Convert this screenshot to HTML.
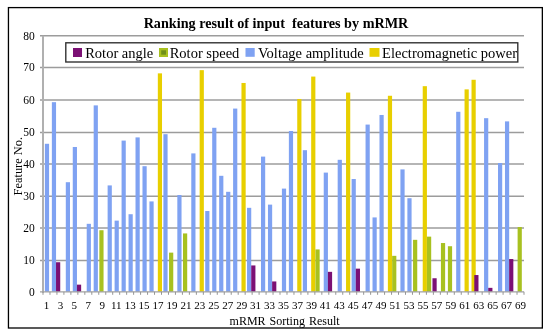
<!DOCTYPE html>
<html><head><meta charset="utf-8"><style>
html,body{margin:0;padding:0;background:#fff;}
svg{display:block;}
text{font-family:"Liberation Serif","Times New Roman",serif;fill:#000;}
.yl{font-size:11.5px;text-anchor:end;}
.xl{font-size:11px;text-anchor:middle;}
.lg{font-size:14.5px;}
</style></head><body>
<svg width="550" height="336" viewBox="0 0 550 336">
<rect x="0" y="0" width="550" height="336" fill="#fff"/>
<rect x="8.45" y="7.6" width="533.9" height="320.4" fill="#fff" stroke="#000" stroke-width="1.3"/>
<text x="276" y="27.6" style="font-size:14.2px;font-weight:bold;text-anchor:middle;white-space:pre" xml:space="preserve">Ranking result of input  features by mRMR</text>
<line x1="40" y1="260.40" x2="524.00" y2="260.40" stroke="#9c9c9c" stroke-width="1.45"/>
<line x1="40" y1="228.00" x2="524.00" y2="228.00" stroke="#9c9c9c" stroke-width="1.45"/>
<line x1="40" y1="196.30" x2="524.00" y2="196.30" stroke="#9c9c9c" stroke-width="1.45"/>
<line x1="40" y1="164.00" x2="524.00" y2="164.00" stroke="#9c9c9c" stroke-width="1.45"/>
<line x1="40" y1="132.40" x2="524.00" y2="132.40" stroke="#9c9c9c" stroke-width="1.45"/>
<line x1="40" y1="100.00" x2="524.00" y2="100.00" stroke="#9c9c9c" stroke-width="1.45"/>
<line x1="40" y1="67.40" x2="524.00" y2="67.40" stroke="#9c9c9c" stroke-width="1.45"/>
<line x1="40" y1="35.70" x2="524.00" y2="35.70" stroke="#9c9c9c" stroke-width="1.45"/>
<rect x="44.89" y="143.79" width="4.2" height="148.01" fill="#7fa2f2"/>
<rect x="51.86" y="102.18" width="4.2" height="189.62" fill="#7fa2f2"/>
<rect x="56.03" y="262.24" width="4.2" height="29.56" fill="#7b1074"/>
<rect x="65.80" y="182.21" width="4.2" height="109.59" fill="#7fa2f2"/>
<rect x="72.77" y="146.99" width="4.2" height="144.81" fill="#7fa2f2"/>
<rect x="76.94" y="284.65" width="4.2" height="7.15" fill="#7b1074"/>
<rect x="86.71" y="223.82" width="4.2" height="67.98" fill="#7fa2f2"/>
<rect x="93.68" y="105.38" width="4.2" height="186.42" fill="#7fa2f2"/>
<rect x="99.35" y="230.23" width="4.2" height="61.57" fill="#a8c120"/>
<rect x="107.62" y="185.41" width="4.2" height="106.39" fill="#7fa2f2"/>
<rect x="114.60" y="220.62" width="4.2" height="71.18" fill="#7fa2f2"/>
<rect x="121.57" y="140.59" width="4.2" height="151.21" fill="#7fa2f2"/>
<rect x="128.54" y="214.22" width="4.2" height="77.58" fill="#7fa2f2"/>
<rect x="135.51" y="137.39" width="4.2" height="154.41" fill="#7fa2f2"/>
<rect x="142.48" y="166.20" width="4.2" height="125.60" fill="#7fa2f2"/>
<rect x="149.45" y="201.42" width="4.2" height="90.38" fill="#7fa2f2"/>
<rect x="157.82" y="73.36" width="4.2" height="218.44" fill="#e8cf00"/>
<rect x="163.39" y="134.19" width="4.2" height="157.61" fill="#7fa2f2"/>
<rect x="169.06" y="252.63" width="4.2" height="39.17" fill="#a8c120"/>
<rect x="177.33" y="195.01" width="4.2" height="96.79" fill="#7fa2f2"/>
<rect x="183.01" y="233.43" width="4.2" height="58.37" fill="#a8c120"/>
<rect x="191.28" y="153.40" width="4.2" height="138.40" fill="#7fa2f2"/>
<rect x="199.65" y="70.16" width="4.2" height="221.64" fill="#e8cf00"/>
<rect x="205.22" y="211.02" width="4.2" height="80.78" fill="#7fa2f2"/>
<rect x="212.19" y="127.79" width="4.2" height="164.01" fill="#7fa2f2"/>
<rect x="219.16" y="175.81" width="4.2" height="116.00" fill="#7fa2f2"/>
<rect x="226.13" y="191.81" width="4.2" height="99.99" fill="#7fa2f2"/>
<rect x="233.10" y="108.58" width="4.2" height="183.22" fill="#7fa2f2"/>
<rect x="241.47" y="82.97" width="4.2" height="208.83" fill="#e8cf00"/>
<rect x="247.04" y="207.82" width="4.2" height="83.98" fill="#7fa2f2"/>
<rect x="251.22" y="265.44" width="4.2" height="26.36" fill="#7b1074"/>
<rect x="260.99" y="156.60" width="4.2" height="135.20" fill="#7fa2f2"/>
<rect x="267.96" y="204.62" width="4.2" height="87.18" fill="#7fa2f2"/>
<rect x="272.13" y="281.45" width="4.2" height="10.35" fill="#7b1074"/>
<rect x="281.90" y="188.61" width="4.2" height="103.19" fill="#7fa2f2"/>
<rect x="288.87" y="130.99" width="4.2" height="160.81" fill="#7fa2f2"/>
<rect x="297.24" y="98.97" width="4.2" height="192.83" fill="#e8cf00"/>
<rect x="302.81" y="150.19" width="4.2" height="141.61" fill="#7fa2f2"/>
<rect x="311.18" y="76.57" width="4.2" height="215.23" fill="#e8cf00"/>
<rect x="315.46" y="249.43" width="4.2" height="42.37" fill="#a8c120"/>
<rect x="323.73" y="172.60" width="4.2" height="119.20" fill="#7fa2f2"/>
<rect x="327.90" y="271.84" width="4.2" height="19.96" fill="#7b1074"/>
<rect x="337.67" y="159.80" width="4.2" height="132.00" fill="#7fa2f2"/>
<rect x="346.04" y="92.57" width="4.2" height="199.23" fill="#e8cf00"/>
<rect x="351.61" y="179.01" width="4.2" height="112.79" fill="#7fa2f2"/>
<rect x="355.78" y="268.64" width="4.2" height="23.16" fill="#7b1074"/>
<rect x="365.55" y="124.58" width="4.2" height="167.22" fill="#7fa2f2"/>
<rect x="372.52" y="217.42" width="4.2" height="74.38" fill="#7fa2f2"/>
<rect x="379.49" y="114.98" width="4.2" height="176.82" fill="#7fa2f2"/>
<rect x="387.87" y="95.77" width="4.2" height="196.03" fill="#e8cf00"/>
<rect x="392.14" y="255.84" width="4.2" height="35.96" fill="#a8c120"/>
<rect x="400.41" y="169.40" width="4.2" height="122.40" fill="#7fa2f2"/>
<rect x="407.38" y="198.21" width="4.2" height="93.59" fill="#7fa2f2"/>
<rect x="413.05" y="239.83" width="4.2" height="51.97" fill="#a8c120"/>
<rect x="422.72" y="86.17" width="4.2" height="205.63" fill="#e8cf00"/>
<rect x="426.99" y="236.63" width="4.2" height="55.17" fill="#a8c120"/>
<rect x="432.46" y="278.25" width="4.2" height="13.56" fill="#7b1074"/>
<rect x="440.93" y="243.03" width="4.2" height="48.77" fill="#a8c120"/>
<rect x="447.90" y="246.23" width="4.2" height="45.57" fill="#a8c120"/>
<rect x="456.18" y="111.78" width="4.2" height="180.02" fill="#7fa2f2"/>
<rect x="464.55" y="89.37" width="4.2" height="202.43" fill="#e8cf00"/>
<rect x="471.52" y="79.77" width="4.2" height="212.03" fill="#e8cf00"/>
<rect x="474.29" y="275.04" width="4.2" height="16.76" fill="#7b1074"/>
<rect x="484.06" y="118.18" width="4.2" height="173.62" fill="#7fa2f2"/>
<rect x="488.23" y="287.85" width="4.2" height="3.95" fill="#7b1074"/>
<rect x="498.00" y="163.00" width="4.2" height="128.80" fill="#7fa2f2"/>
<rect x="504.97" y="121.38" width="4.2" height="170.42" fill="#7fa2f2"/>
<rect x="509.14" y="259.04" width="4.2" height="32.76" fill="#7b1074"/>
<rect x="517.61" y="227.03" width="4.2" height="64.78" fill="#a8c120"/>
<line x1="43" y1="35.70" x2="43" y2="292.70" stroke="#b0b0b0" stroke-width="2"/>
<line x1="40" y1="291.80" x2="524.00" y2="291.80" stroke="#a2a2a2" stroke-width="1.3"/>
<line x1="43.00" y1="291.80" x2="43.00" y2="294.8" stroke="#959595" stroke-width="1"/>
<line x1="49.97" y1="291.80" x2="49.97" y2="294.8" stroke="#959595" stroke-width="1"/>
<line x1="56.94" y1="291.80" x2="56.94" y2="294.8" stroke="#959595" stroke-width="1"/>
<line x1="63.91" y1="291.80" x2="63.91" y2="294.8" stroke="#959595" stroke-width="1"/>
<line x1="70.88" y1="291.80" x2="70.88" y2="294.8" stroke="#959595" stroke-width="1"/>
<line x1="77.86" y1="291.80" x2="77.86" y2="294.8" stroke="#959595" stroke-width="1"/>
<line x1="84.83" y1="291.80" x2="84.83" y2="294.8" stroke="#959595" stroke-width="1"/>
<line x1="91.80" y1="291.80" x2="91.80" y2="294.8" stroke="#959595" stroke-width="1"/>
<line x1="98.77" y1="291.80" x2="98.77" y2="294.8" stroke="#959595" stroke-width="1"/>
<line x1="105.74" y1="291.80" x2="105.74" y2="294.8" stroke="#959595" stroke-width="1"/>
<line x1="112.71" y1="291.80" x2="112.71" y2="294.8" stroke="#959595" stroke-width="1"/>
<line x1="119.68" y1="291.80" x2="119.68" y2="294.8" stroke="#959595" stroke-width="1"/>
<line x1="126.65" y1="291.80" x2="126.65" y2="294.8" stroke="#959595" stroke-width="1"/>
<line x1="133.62" y1="291.80" x2="133.62" y2="294.8" stroke="#959595" stroke-width="1"/>
<line x1="140.59" y1="291.80" x2="140.59" y2="294.8" stroke="#959595" stroke-width="1"/>
<line x1="147.57" y1="291.80" x2="147.57" y2="294.8" stroke="#959595" stroke-width="1"/>
<line x1="154.54" y1="291.80" x2="154.54" y2="294.8" stroke="#959595" stroke-width="1"/>
<line x1="161.51" y1="291.80" x2="161.51" y2="294.8" stroke="#959595" stroke-width="1"/>
<line x1="168.48" y1="291.80" x2="168.48" y2="294.8" stroke="#959595" stroke-width="1"/>
<line x1="175.45" y1="291.80" x2="175.45" y2="294.8" stroke="#959595" stroke-width="1"/>
<line x1="182.42" y1="291.80" x2="182.42" y2="294.8" stroke="#959595" stroke-width="1"/>
<line x1="189.39" y1="291.80" x2="189.39" y2="294.8" stroke="#959595" stroke-width="1"/>
<line x1="196.36" y1="291.80" x2="196.36" y2="294.8" stroke="#959595" stroke-width="1"/>
<line x1="203.33" y1="291.80" x2="203.33" y2="294.8" stroke="#959595" stroke-width="1"/>
<line x1="210.30" y1="291.80" x2="210.30" y2="294.8" stroke="#959595" stroke-width="1"/>
<line x1="217.28" y1="291.80" x2="217.28" y2="294.8" stroke="#959595" stroke-width="1"/>
<line x1="224.25" y1="291.80" x2="224.25" y2="294.8" stroke="#959595" stroke-width="1"/>
<line x1="231.22" y1="291.80" x2="231.22" y2="294.8" stroke="#959595" stroke-width="1"/>
<line x1="238.19" y1="291.80" x2="238.19" y2="294.8" stroke="#959595" stroke-width="1"/>
<line x1="245.16" y1="291.80" x2="245.16" y2="294.8" stroke="#959595" stroke-width="1"/>
<line x1="252.13" y1="291.80" x2="252.13" y2="294.8" stroke="#959595" stroke-width="1"/>
<line x1="259.10" y1="291.80" x2="259.10" y2="294.8" stroke="#959595" stroke-width="1"/>
<line x1="266.07" y1="291.80" x2="266.07" y2="294.8" stroke="#959595" stroke-width="1"/>
<line x1="273.04" y1="291.80" x2="273.04" y2="294.8" stroke="#959595" stroke-width="1"/>
<line x1="280.01" y1="291.80" x2="280.01" y2="294.8" stroke="#959595" stroke-width="1"/>
<line x1="286.99" y1="291.80" x2="286.99" y2="294.8" stroke="#959595" stroke-width="1"/>
<line x1="293.96" y1="291.80" x2="293.96" y2="294.8" stroke="#959595" stroke-width="1"/>
<line x1="300.93" y1="291.80" x2="300.93" y2="294.8" stroke="#959595" stroke-width="1"/>
<line x1="307.90" y1="291.80" x2="307.90" y2="294.8" stroke="#959595" stroke-width="1"/>
<line x1="314.87" y1="291.80" x2="314.87" y2="294.8" stroke="#959595" stroke-width="1"/>
<line x1="321.84" y1="291.80" x2="321.84" y2="294.8" stroke="#959595" stroke-width="1"/>
<line x1="328.81" y1="291.80" x2="328.81" y2="294.8" stroke="#959595" stroke-width="1"/>
<line x1="335.78" y1="291.80" x2="335.78" y2="294.8" stroke="#959595" stroke-width="1"/>
<line x1="342.75" y1="291.80" x2="342.75" y2="294.8" stroke="#959595" stroke-width="1"/>
<line x1="349.72" y1="291.80" x2="349.72" y2="294.8" stroke="#959595" stroke-width="1"/>
<line x1="356.70" y1="291.80" x2="356.70" y2="294.8" stroke="#959595" stroke-width="1"/>
<line x1="363.67" y1="291.80" x2="363.67" y2="294.8" stroke="#959595" stroke-width="1"/>
<line x1="370.64" y1="291.80" x2="370.64" y2="294.8" stroke="#959595" stroke-width="1"/>
<line x1="377.61" y1="291.80" x2="377.61" y2="294.8" stroke="#959595" stroke-width="1"/>
<line x1="384.58" y1="291.80" x2="384.58" y2="294.8" stroke="#959595" stroke-width="1"/>
<line x1="391.55" y1="291.80" x2="391.55" y2="294.8" stroke="#959595" stroke-width="1"/>
<line x1="398.52" y1="291.80" x2="398.52" y2="294.8" stroke="#959595" stroke-width="1"/>
<line x1="405.49" y1="291.80" x2="405.49" y2="294.8" stroke="#959595" stroke-width="1"/>
<line x1="412.46" y1="291.80" x2="412.46" y2="294.8" stroke="#959595" stroke-width="1"/>
<line x1="419.43" y1="291.80" x2="419.43" y2="294.8" stroke="#959595" stroke-width="1"/>
<line x1="426.41" y1="291.80" x2="426.41" y2="294.8" stroke="#959595" stroke-width="1"/>
<line x1="433.38" y1="291.80" x2="433.38" y2="294.8" stroke="#959595" stroke-width="1"/>
<line x1="440.35" y1="291.80" x2="440.35" y2="294.8" stroke="#959595" stroke-width="1"/>
<line x1="447.32" y1="291.80" x2="447.32" y2="294.8" stroke="#959595" stroke-width="1"/>
<line x1="454.29" y1="291.80" x2="454.29" y2="294.8" stroke="#959595" stroke-width="1"/>
<line x1="461.26" y1="291.80" x2="461.26" y2="294.8" stroke="#959595" stroke-width="1"/>
<line x1="468.23" y1="291.80" x2="468.23" y2="294.8" stroke="#959595" stroke-width="1"/>
<line x1="475.20" y1="291.80" x2="475.20" y2="294.8" stroke="#959595" stroke-width="1"/>
<line x1="482.17" y1="291.80" x2="482.17" y2="294.8" stroke="#959595" stroke-width="1"/>
<line x1="489.14" y1="291.80" x2="489.14" y2="294.8" stroke="#959595" stroke-width="1"/>
<line x1="496.12" y1="291.80" x2="496.12" y2="294.8" stroke="#959595" stroke-width="1"/>
<line x1="503.09" y1="291.80" x2="503.09" y2="294.8" stroke="#959595" stroke-width="1"/>
<line x1="510.06" y1="291.80" x2="510.06" y2="294.8" stroke="#959595" stroke-width="1"/>
<line x1="517.03" y1="291.80" x2="517.03" y2="294.8" stroke="#959595" stroke-width="1"/>
<line x1="524.00" y1="291.80" x2="524.00" y2="294.8" stroke="#959595" stroke-width="1"/>
<text x="34.7" y="295.70" class="yl">0</text>
<text x="34.7" y="264.30" class="yl">10</text>
<text x="34.7" y="231.90" class="yl">20</text>
<text x="34.7" y="200.20" class="yl">30</text>
<text x="34.7" y="167.90" class="yl">40</text>
<text x="34.7" y="136.30" class="yl">50</text>
<text x="34.7" y="103.90" class="yl">60</text>
<text x="34.7" y="71.30" class="yl">70</text>
<text x="34.7" y="39.60" class="yl">80</text>
<text x="46.49" y="309" class="xl">1</text>
<text x="60.43" y="309" class="xl">3</text>
<text x="74.37" y="309" class="xl">5</text>
<text x="88.31" y="309" class="xl">7</text>
<text x="102.25" y="309" class="xl">9</text>
<text x="116.20" y="309" class="xl">11</text>
<text x="130.14" y="309" class="xl">13</text>
<text x="144.08" y="309" class="xl">15</text>
<text x="158.02" y="309" class="xl">17</text>
<text x="171.96" y="309" class="xl">19</text>
<text x="185.91" y="309" class="xl">21</text>
<text x="199.85" y="309" class="xl">23</text>
<text x="213.79" y="309" class="xl">25</text>
<text x="227.73" y="309" class="xl">27</text>
<text x="241.67" y="309" class="xl">29</text>
<text x="255.62" y="309" class="xl">31</text>
<text x="269.56" y="309" class="xl">33</text>
<text x="283.50" y="309" class="xl">35</text>
<text x="297.44" y="309" class="xl">37</text>
<text x="311.38" y="309" class="xl">39</text>
<text x="325.33" y="309" class="xl">41</text>
<text x="339.27" y="309" class="xl">43</text>
<text x="353.21" y="309" class="xl">45</text>
<text x="367.15" y="309" class="xl">47</text>
<text x="381.09" y="309" class="xl">49</text>
<text x="395.04" y="309" class="xl">51</text>
<text x="408.98" y="309" class="xl">53</text>
<text x="422.92" y="309" class="xl">55</text>
<text x="436.86" y="309" class="xl">57</text>
<text x="450.80" y="309" class="xl">59</text>
<text x="464.75" y="309" class="xl">61</text>
<text x="478.69" y="309" class="xl">63</text>
<text x="492.63" y="309" class="xl">65</text>
<text x="506.57" y="309" class="xl">67</text>
<text x="520.51" y="309" class="xl">69</text>
<rect x="65.8" y="42.8" width="452" height="19.2" fill="#fff" stroke="#2c2c2c" stroke-width="1.35"/>
<rect x="73" y="48" width="9" height="9" fill="#7b1074"/>
<text x="85.2" y="57.6" class="lg">Rotor angle</text>
<rect x="159" y="48" width="9" height="9" fill="#a8c120"/>
<rect x="161.2" y="50.3" width="4.8" height="4.4" fill="#6f8f1a"/>
<text x="169.7" y="57.6" class="lg">Rotor speed</text>
<rect x="245.5" y="48" width="9.2" height="8.8" fill="#7fa2f2"/>
<text x="258" y="57.6" class="lg">Voltage amplitude</text>
<rect x="369.5" y="48" width="10" height="8.8" fill="#e8cf00"/>
<text x="382.1" y="57.6" class="lg">Electromagnetic power</text>
<text transform="translate(21.8,166.2) rotate(-90)" style="font-size:12.4px;text-anchor:middle">Feature No.</text>
<text x="284.6" y="324.8" style="font-size:12px;text-anchor:middle;word-spacing:1px">mRMR Sorting Result</text>
</svg>
</body></html>
